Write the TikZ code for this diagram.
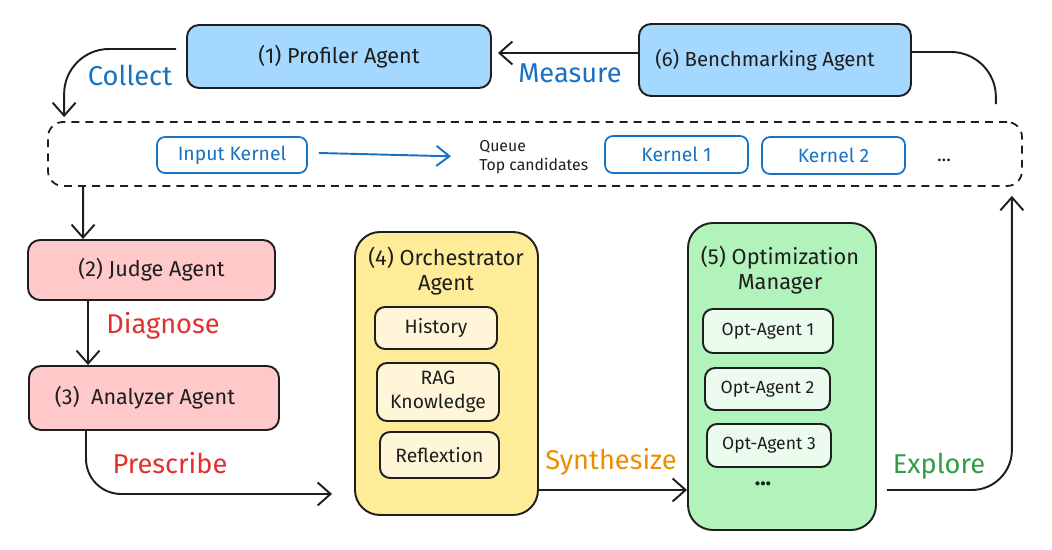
\documentclass[tikz,border=0pt]{standalone}
\usepackage{fontspec}
\setmainfont{Fira Sans}
\usetikzlibrary{fit,arrows.meta}
\definecolor{ink}{HTML}{1E1E1E}
\definecolor{bluefill}{HTML}{A5D8FF}
\definecolor{bluetext}{HTML}{1971C2}
\definecolor{redtext}{HTML}{E03131}
\definecolor{pinkfill}{HTML}{FFC9C9}
\definecolor{yellowfill}{HTML}{FFEC99}
\definecolor{yellowinner}{HTML}{FFF6D9}
\definecolor{greenfill}{HTML}{B2F2BB}
\definecolor{greeninner}{HTML}{EBFBEE}
\definecolor{greentext}{HTML}{2F9E44}
\definecolor{orangetext}{HTML}{F08C00}
\begin{document}
\begin{tikzpicture}[x=0.02cm,y=-0.02cm,
  boxtext/.style={text=ink, font=\fontsize{12.3}{14.5}\selectfont, align=center, inner sep=0pt},
  midtext/.style={text=ink, font=\fontsize{11}{13.5}\selectfont, align=center, inner sep=0pt},
  smalltext/.style={text=ink, font=\fontsize{10}{12}\selectfont, align=center, inner sep=0pt},
  bluetxt/.style={text=bluetext, font=\fontsize{11}{13}\selectfont, align=center, inner sep=0pt},
  txt/.style={label={[boxtext]center:#1}},
  mtxt/.style={label={[midtext]center:#1}},
  stxt/.style={label={[smalltext]center:#1}},
  btxt/.style={label={[bluetxt]center:#1}},
  box/.style={draw=ink, line width=1.1pt, rounded corners=0.24cm, inner sep=0pt},
  bluebox/.style={box, fill=bluefill},
  pinkbox/.style={box, fill=pinkfill},
  bigbox/.style={box, rounded corners=0.5cm},
  ybox/.style={box, fill=yellowinner, rounded corners=0.2cm},
  gbox/.style={box, fill=greeninner, rounded corners=0.2cm},
  kbox/.style={draw=bluetext, line width=1pt, rounded corners=0.16cm, inner sep=0pt},
  dashbox/.style={draw=ink, line width=1pt, dash pattern=on 4.5pt off 3.5pt, rounded corners=0.3cm, inner sep=0pt},
  arr/.style={draw=ink, line width=1.1pt, -{Straight Barb[length=2.6mm,width=4.6mm]}},
  plain/.style={draw=ink, line width=1.1pt},
  karr/.style={draw=bluetext, line width=1.1pt, -{Straight Barb[length=2.6mm,width=4mm]}},
  lbl/.style={font=\fontsize{15.5}{18}\selectfont},
  title/.style={text=ink, font=\fontsize{12.4}{14.5}\selectfont, align=center},
]
\useasboundingbox (0,0) rectangle (1052,550);

% top row
\node[bluebox, fit={(187,25)(491,88)}, txt={(1) Profiler Agent}] (prof) {};
\node[bluebox, fit={(639,24)(911,96)}, label={[boxtext, font=\fontsize{11.6}{14}\selectfont, xshift=-0.2cm]center:(6) Benchmarking Agent}] (bench) {};

% queue
\node[dashbox, fit={(48,122)(1022,186)}] (queue) {};
\node[kbox, fit={(157,137)(307,173)}, btxt={Input Kernel}] (input) {};
\node[kbox, fit={(605,136)(748,173)}, btxt={Kernel 1}] (k1) {};
\node[kbox, fit={(762,137)(905,174)}, btxt={Kernel 2}] (k2) {};
\node[anchor=west, align=left, text=ink, font=\fontsize{9}{11}\selectfont, inner sep=0pt] (qtext) at (479,157) {Queue\\Top candidates};
\node[text=ink, font=\fontsize{11}{13}\selectfont] (qdots) at (944,160) {...};
\draw[karr, shorten >=0.56cm] ([xshift=0.22cm,yshift=0.04cm]input.east) -- (qtext.west);

% left column
\node[pinkbox, fit={(28,240)(275,300)}, txt={(2) Judge Agent}] (judge) {};
\node[pinkbox, fit={(29,366)(279,430)}, label={[boxtext, xshift=-0.18cm]center:(3)\ \ Analyzer Agent}] (ana) {};

% orchestrator
\node[bigbox, fill=yellowfill, fit={(355,232)(538,515)}] (orch) {};
\node[title] (orchT) at (446,271) {(4) Orchestrator\\Agent};
\node[ybox, fit={(375,307)(497,349)}, mtxt={History}] (hist) {};
\node[ybox, fit={(377,363)(499,421)}, mtxt={RAG\\Knowledge}] (rag) {};
\node[ybox, fit={(380,432)(499,478)}, mtxt={Reflextion}] (refl) {};

% optimization manager
\node[bigbox, fill=greenfill, fit={(688,223)(876,530)}] (opt) {};
\node[title] (optT) at (780,270) {(5) Optimization\\Manager};
\node[gbox, fit={(703,309)(833,353)}, stxt={Opt-Agent 1}] (oa1) {};
\node[gbox, fit={(705,368)(830,410)}, stxt={Opt-Agent 2}] (oa2) {};
\node[gbox, fit={(707,424)(831,467)}, stxt={Opt-Agent 3}] (oa3) {};
\node[text=ink, font=\fontsize{13}{15}\bfseries] (odots) at (763,484) {...};

% connectors
\coordinate (ma) at ([yshift=0.14cm]bench.west);
\draw[arr, shorten >=0.12cm] (ma) -- (ma -| prof.east);
\node[lbl, text=bluetext] (measure) at (570,73) {Measure};

\draw[arr, rounded corners=0.9cm, shorten >=0.08cm] ([xshift=-0.2cm,yshift=0.15cm]prof.west) -| ([xshift=0.34cm]queue.north west);
\node[lbl, text=bluetext] (collect) at (130,75) {Collect};

\draw[plain, rounded corners=0.9cm] ([yshift=0.16cm]bench.east) -| ([xshift=-0.54cm,yshift=0.34cm]queue.north east);

\draw[arr] ([xshift=0.72cm]queue.south west) -- ([xshift=1.12cm]judge.north west);
\draw[arr] ([xshift=1.22cm]judge.south west) -- ([xshift=1.22cm]judge.south west |- ana.north);
\node[lbl, text=redtext] (diag) at (163,326) {Diagnose};

\draw[arr, rounded corners=0.7cm] ([xshift=1.16cm]ana.south west) |- ([xshift=-0.44cm,yshift=0.44cm]orch.south west);
\node[lbl, text=redtext] (presc) at (170,463) {Prescribe};

\coordinate (sa) at ([yshift=0.52cm]orch.south east);
\draw[arr] (sa) -- (sa -| opt.west);
\node[lbl, text=orangetext] (synth) at (611,462) {Synthesize};

\coordinate (exs) at ([xshift=0.2cm]sa -| opt.east);
\draw[arr, rounded corners=0.8cm, shorten >=0.18cm] (exs) -| ([xshift=-0.22cm]queue.south east);
\node[lbl, text=greentext] (explore) at (939,466) {Explore};
\end{tikzpicture}
\end{document}
